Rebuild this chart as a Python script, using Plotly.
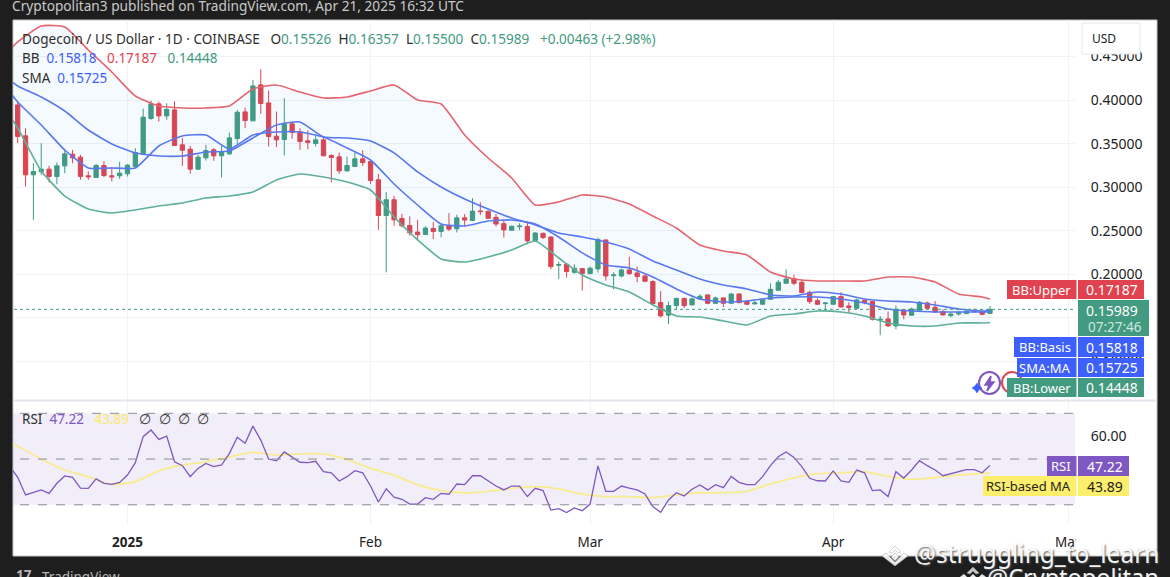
import pandas as pd
import plotly.graph_objects as go

# daily candles, Dec 18 2024 - Apr 21 2025
dates = pd.date_range("2024-12-18", "2025-04-21", freq="D")

opens = [.3944, .3589, .3142, .3176, .3207, .3123, .3245, .3379, .3345, .3131,
         .3112, .3249, .3131, .3131, .3154, .3238, .3383, .3788, .3956, .3818,
         .3887, .3486, .3436, .3207, .3337, .3429, .3360, .3383, .3558, .3864,
         .3761, .4174, .3967, .3585, .3547, .3727, .3635, .3532, .3501, .3543,
         .3364, .3348, .3188, .3238, .3325, .3295, .3085, .2676, .2856, .2642,
         .2561, .2485, .2458, .2527, .2493, .2561, .2523, .2649, .2619, .2727,
         .2724, .2655, .2582, .2506, .2548, .2548, .2387, .2471, .2429, .2105,
         .2116, .2024, .2066, .2009, .2063, .2395, .1986, .1982, .2051, .2017,
         .1982, .1918, .1677, .1532, .1642, .1723, .1650, .1719, .1764, .1668,
         .1730, .1668, .1775, .1688, .1661, .1657, .1714, .1817, .1898, .1951,
         .1909, .1794, .1699, .1665, .1657, .1745, .1638, .1611, .1703, .1688,
         .1477, .1489, .1409, .1592, .1531, .1588, .1672, .1623, .1573, .1527,
         .1546, .1550, .1584, .1569, .15526]
highs = [.3983, .3677, .3276, .3505, .3245, .3283, .3429, .3429, .3371, .3180,
         .3268, .3299, .3230, .3291, .3264, .3448, .3902, .3994, .3983, .3963,
         .3986, .3562, .3474, .3371, .3486, .3448, .3474, .3627, .3887, .3914,
         .4231, .4353, .4109, .3868, .4021, .3753, .3677, .3650, .3612, .3574,
         .3379, .3398, .3352, .3398, .3425, .3314, .3150, .2943, .2901, .2695,
         .2665, .2626, .2550, .2600, .2588, .2703, .2684, .2691, .2875, .2827,
         .2731, .2693, .2624, .2559, .2586, .2605, .2483, .2479, .2433, .2147,
         .2128, .2116, .2070, .2089, .2422, .2399, .2024, .2066, .2200, .2089,
         .2002, .1933, .1807, .1688, .1734, .1734, .1734, .1772, .1772, .1745,
         .1737, .1783, .1783, .1707, .1699, .1714, .1898, .1936, .2058, .1997,
         .1936, .1814, .1726, .1684, .1752, .1794, .1680, .1722, .1707, .1695,
         .1523, .1573, .1642, .1600, .1619, .1695, .1688, .1695, .1600, .1565,
         .1584, .1592, .1607, .1584, .16357]
lows = [.3505, .3008, .2626, .3142, .3054, .3035, .3161, .3276, .3085, .3085,
        .3112, .3115, .3066, .3096, .3123, .3219, .3379, .3772, .3753, .3772,
        .3474, .3245, .3154, .3199, .3306, .3303, .3112, .3371, .3490, .3677,
        .3761, .3841, .3467, .3459, .3364, .3555, .3429, .3436, .3467, .3360,
        .3058, .3154, .3176, .3230, .3245, .3039, .2512, .2023, .2558, .2539,
        .2443, .2390, .2451, .2405, .2424, .2497, .2481, .2550, .2615, .2681,
        .2643, .2548, .2422, .2502, .2510, .2345, .2380, .2406, .2059, .1948,
        .1963, .2005, .1814, .2002, .2021, .1929, .1830, .1967, .1994, .1910,
        .1910, .1650, .1505, .1429, .1600, .1612, .1646, .1715, .1657, .1665,
        .1626, .1668, .1668, .1649, .1657, .1657, .1714, .1814, .1898, .1875,
        .1783, .1661, .1649, .1592, .1653, .1623, .1554, .1607, .1657, .1470,
        .1302, .1401, .1370, .1485, .1527, .1584, .1603, .1561, .1527, .1508,
        .1527, .1546, .1561, .1531, .15500]
closes = [.3581, .3142, .3180, .3207, .3123, .3245, .3383, .3337, .3123, .3119,
          .3249, .3134, .3119, .3161, .3253, .3398, .3803, .3956, .3818, .3891,
          .3478, .3425, .3207, .3345, .3421, .3360, .3398, .3566, .3860, .3765,
          .4162, .3960, .3581, .3543, .3727, .3627, .3524, .3513, .3543, .3360,
          .3341, .3188, .3249, .3325, .3283, .3077, .2676, .2856, .2626, .2558,
          .2477, .2455, .2531, .2493, .2558, .2519, .2649, .2623, .2726, .2720,
          .2643, .2578, .2510, .2552, .2555, .2384, .2475, .2422, .2089, .2112,
          .2032, .2070, .2009, .2070, .2399, .1982, .1994, .2051, .2009, .1975,
          .1921, .1665, .1524, .1642, .1723, .1642, .1719, .1749, .1668, .1730,
          .1668, .1775, .1676, .1657, .1672, .1710, .1829, .1909, .1947, .1898,
          .1791, .1688, .1657, .1672, .1745, .1626, .1619, .1707, .1676, .1485,
          .1485, .1409, .1600, .1535, .1603, .1680, .1611, .1569, .1535, .1546,
          .1558, .1577, .1573, .1542, .15989]

# indicator lines read every third day (plus the clipped day at the left edge and the last day)
line_dates = [pd.Timestamp("2024-12-17")] + list(dates[::3]) + [dates[-1]]

bb_upper = [.4574, .4666, .4849, .4838, .4574, .4322, .4046, .3932, .3909, .3909, .3932,
            .4127, .4173, .4092, .4023, .4035, .4104, .4173, .4000, .3955, .3599, .3335,
            .3106, .2796, .2831, .2911, .2888, .2808, .2670, .2532, .2337, .2268, .2223,
            .2028, .1947, .1924, .1924, .1924, .1970, .1970, .1913, .1775, .1741, .17187]
bb_basis = [.4230, .4161, .4035, .3874, .3656, .3496, .3393, .3358, .3358, .3404, .3415,
            .3565, .3714, .3748, .3576, .3565, .3530, .3393, .3175, .3003, .2865, .2750,
            .2647, .2567, .2475, .2429, .2372, .2291, .2154, .2051, .1947, .1879, .1833,
            .1764, .1752, .1798, .1775, .1718, .1695, .1684, .1649, .1603, .1580, .15818]
bb_lower = [.3817, .3679, .3186, .2899, .2750, .2704, .2739, .2785, .2819, .2876, .2899,
            .2945, .3083, .3152, .3117, .3060, .2968, .2658, .2395, .2177, .2142, .2200,
            .2280, .2383, .2188, .1993, .1879, .1798, .1649, .1523, .1511, .1466, .1420,
            .1523, .1546, .1580, .1569, .1523, .1443, .1408, .1408, .1443, .1443, .14448]
sma = [.4092, .3978, .3714, .3427, .3221, .3221, .3221, .3473, .3588, .3599, .3438,
       .3599, .3633, .3633, .3576, .3450, .3312, .3037, .2796, .2578, .2555, .2613,
       .2624, .2578, .2429, .2246, .2108, .2074, .1970, .1833, .1718, .1684, .1695,
       .1729, .1741, .1741, .1718, .1672, .1603, .1580, .1569, .1569, .1569, .15725]

# RSI, first value is the clipped Dec 17
rsi_dates = pd.date_range("2024-12-17", "2025-04-21", freq="D")
rsi = [46.7, 42.0, 34.3, 35.3, 36.5, 35.0, 39.4, 42.6, 42.0, 37.3, 37.2, 41.3, 39.4, 38.9, 39.8,
       43.0, 48.4, 59.8, 62.7, 58.6, 60.0, 48.8, 47.1, 42.3, 45.9, 48.1, 46.7, 47.4, 52.5, 59.5,
       56.9, 64.4, 58.3, 50.0, 49.2, 53.1, 50.7, 48.6, 48.4, 49.0, 44.5, 44.0, 40.4, 42.3, 44.9,
       44.0, 38.2, 31.2, 37.0, 33.3, 32.4, 30.3, 30.3, 33.1, 32.4, 35.0, 34.6, 39.1, 38.8, 42.7,
       42.7, 40.4, 38.2, 36.5, 38.2, 38.2, 33.6, 37.2, 36.2, 27.7, 28.3, 26.6, 28.6, 27.4, 30.3,
       47.0, 35.9, 35.9, 38.2, 37.3, 36.5, 34.7, 29.2, 26.7, 32.1, 35.3, 33.8, 36.8, 38.7, 36.5,
       38.8, 37.5, 42.4, 39.8, 38.8, 38.8, 42.3, 47.1, 51.0, 53.1, 50.7, 46.7, 41.6, 40.5, 40.4,
       44.8, 40.4, 39.8, 45.2, 44.0, 36.2, 36.5, 33.6, 44.5, 41.7, 45.2, 49.3, 47.1, 45.2, 42.7,
       43.5, 44.5, 45.4, 45.4, 44.0, 47.22]
rsi_ma = [57.2, 55.7, 49.9, 45.2, 42.3, 38.9, 40.1, 44.8, 47.4, 48.8, 51.0, 52.9, 51.8, 52.3, 52.3,
          49.9, 45.9, 43.0, 38.7, 36.2, 35.2, 35.9, 37.2, 37.9, 37.0, 34.7, 33.6, 33.6, 33.1, 34.3,
          35.2, 35.3, 35.9, 39.1, 41.8, 43.6, 44.0, 44.5, 42.4, 41.1, 42.0, 43.0, 43.7, 43.89]

price_ticks = [0.05, 0.10, 0.15, 0.20, 0.25, 0.30, 0.35, 0.40, 0.45]
rsi_ticks = [40, 60]
month_ticks = ["2025-01-01", "2025-02-01", "2025-03-01", "2025-04-01", "2025-05-01"]
month_labels = ["<b>2025</b>", "Feb", "Mar", "Apr", "May"]

GREEN = "#429a80"
RED = "#e0434f"
BLUE = "#3d5ffb"
PURPLE = "#7e57c2"
YELLOW = "#fdee6b"
GRID = "#f0f2f7"
TEXT = "#2e2e2e"
FONT = "Noto Sans"

W, H = 1170, 577


def px(x):
    return x / W


def py(y):
    return 1 - y / H


fig = go.Figure()

# bollinger band with fill
fig.add_trace(go.Scatter(x=line_dates, y=bb_lower, mode="lines", line=dict(color="#5fb09a", width=1.6, shape="spline", smoothing=0.5)))
fig.add_trace(go.Scatter(x=line_dates, y=bb_upper, mode="lines", line=dict(color="#e3666f", width=1.6, shape="spline", smoothing=0.5),
                         fill="tonexty", fillcolor="rgba(33,150,243,0.05)"))
fig.add_trace(go.Scatter(x=line_dates, y=bb_basis, mode="lines", line=dict(color="#5a78ee", width=1.6, shape="spline", smoothing=0.5)))
fig.add_trace(go.Scatter(x=line_dates, y=sma, mode="lines", line=dict(color="#5a78ee", width=1.6, shape="spline", smoothing=0.5)))

fig.add_trace(go.Candlestick(x=dates, open=opens, high=highs, low=lows, close=closes,
                             increasing=dict(line=dict(color=GREEN, width=1), fillcolor=GREEN),
                             decreasing=dict(line=dict(color=RED, width=1), fillcolor=RED),
                             whiskerwidth=0))

fig.add_trace(go.Scatter(x=line_dates, y=rsi_ma, mode="lines", xaxis="x2", yaxis="y2",
                         line=dict(color="#f8ec8e", width=1.8, shape="spline", smoothing=0.5)))
fig.add_trace(go.Scatter(x=rsi_dates, y=rsi, mode="lines", xaxis="x2", yaxis="y2",
                         line=dict(color=PURPLE, width=1.3)))

shapes = [
    # white page behind the chart
    dict(type="rect", xref="paper", yref="paper", x0=px(13), x1=px(1157), y0=py(556), y1=py(20),
         fillcolor="white", line=dict(color="#c8c8c8", width=1), layer="below"),
    # pane separator
    dict(type="line", xref="paper", yref="paper", x0=px(13), x1=px(1157), y0=py(400.5), y1=py(400.5),
         line=dict(color="#e4e6ec", width=2)),
    # last price line
    dict(type="line", xref="x", yref="y", x0=dates[0] - pd.Timedelta(days=2), x1="2025-05-02", y0=closes[-1], y1=closes[-1],
         line=dict(color=GREEN, width=1, dash="dot")),
    # rsi band
    dict(type="rect", xref="x2", yref="y2", x0=dates[0] - pd.Timedelta(days=2), x1="2025-05-02", y0=30, y1=70,
         fillcolor="rgba(126,87,194,0.1)", line=dict(width=0), layer="below"),
    # USD box
    dict(type="rect", xref="paper", yref="paper", x0=px(1082), x1=px(1140), y0=py(54), y1=py(23),
         fillcolor="white", line=dict(color="#e4e6ec", width=1), layer="above"),
    # the time scale cuts off the May label at the price scale edge
    dict(type="rect", xref="paper", yref="paper", x0=px(1075.5), x1=px(1090), y0=py(553), y1=py(530),
         fillcolor="white", line=dict(width=0), layer="above"),
]
for level in [30, 50, 70]:
    shapes.append(dict(type="line", xref="x2", yref="y2", x0=dates[0] - pd.Timedelta(days=2), x1="2025-05-02", y0=level, y1=level,
                       line=dict(color="#8b8b95", width=1, dash="dash")))

annotations = []


def note(x, y, text, size=13, color=TEXT, anchor="left"):
    annotations.append(dict(xref="paper", yref="paper", x=px(x), y=py(y), text=text, showarrow=False,
                            xanchor=anchor, yanchor="middle", font=dict(family=FONT, size=size, color=color)))


def tag(x0, x1, y0, y1, fill, label, value, color="white"):
    # axis tag: name part on the left, value part on the right of the scale edge
    shapes.append(dict(type="rect", xref="paper", yref="paper", x0=px(x0), x1=px(1076.5), y0=py(y1), y1=py(y0),
                       fillcolor=fill, line=dict(width=0), layer="above"))
    shapes.append(dict(type="rect", xref="paper", yref="paper", x0=px(1078), x1=px(x1), y0=py(y1), y1=py(y0),
                       fillcolor=fill, line=dict(width=0), layer="above"))
    note(1073, (y0 + y1) / 2, label, color=color, anchor="right")
    note(x1 - 4.5, (y0 + y1) / 2, value, size=14, color=color, anchor="right")


tag(1007, 1144, 280, 299, RED, "BB:Upper", "0.17187")
tag(1014, 1144, 337, 357, BLUE, "BB:Basis", "0.15818")
tag(1017, 1144, 358, 377, BLUE, "SMA:MA", "0.15725")
tag(1007, 1144, 378, 397, GREEN, "BB:Lower", "0.14448")
tag(1047, 1129, 456, 476, PURPLE, "RSI", "47.22")
tag(983, 1129, 476, 496, YELLOW, "RSI-based MA", "43.89", color="#222222")

# last price tag
shapes.append(dict(type="rect", xref="paper", yref="paper", x0=px(1078), x1=px(1149), y0=py(336), y1=py(300),
                   fillcolor=GREEN, line=dict(width=0), layer="above"))
note(1139.5, 310, "0.15989", size=14, color="white", anchor="right")
note(1144, 327, "07:27:46", size=13.5, color="#cfe6de", anchor="right")

note(1104, 39, "USD", size=12, color="#222222", anchor="center")

# top text and legends
note(10, 5, "Cryptopolitan3 published on TradingView.com, Apr 21, 2025 16:32 UTC", size=13.7, color="#c9c9c9")
vals = lambda s: f'<span style="color:{GREEN}">{s}</span>'
SP = "&nbsp;"
note(20, 38, "Dogecoin / US Dollar · 1D · COINBASE" + SP * 3 + "O" + vals("0.15526") + SP * 2 + "H" + vals("0.16357")
     + SP * 2 + "L" + vals("0.15500") + SP * 2 + "C" + vals("0.15989") + SP * 3 + vals("+0.00463 (+2.98%)"), size=13.6)
note(20, 58, "BB" + SP * 2 + f'<span style="color:{BLUE}">0.15818</span>' + SP * 3 + f'<span style="color:{RED}">0.17187</span>' + SP * 3
     + vals("0.14448"), size=13.5)
note(20, 78, "SMA" + SP * 2 + f'<span style="color:{BLUE}">0.15725</span>', size=13.5)
note(20, 419, "RSI" + SP * 2 + f'<span style="color:{PURPLE}">47.22</span>' + SP * 3 + '<span style="color:#fbe96a">43.89</span>'
     + SP * 3 + ("∅" + SP * 2) * 3 + "∅", size=13.5)

# bottom strip and watermarks
note(40, 577, "TradingView", size=13.5, color="#b5b5b5")
note(14, 575, "<b>17</b>", size=13.5, color="#b5b5b5")
for wm_y, wm_text, wm_size in [(553, "@struggling_to_learn", 24.5), (577, "@Cryptopolitan", 23.5)]:
    annotations.append(dict(xref="paper", yref="paper", x=px(1161), y=py(wm_y), text=wm_text, showarrow=False,
                            xanchor="right", yanchor="middle",
                            font=dict(family=FONT, size=wm_size, color="rgba(255,255,255,0.95)", shadow="1px 1px 2px #555")))


def poly(points, fill="rgba(0,0,0,0)", line=None, width=1.5):
    d = "M " + " L ".join(f"{px(a):.5f},{py(b):.5f}" for a, b in points) + " Z"
    shapes.append(dict(type="path", xref="paper", yref="paper", path=d, fillcolor=fill,
                       line=dict(color=line or fill, width=width), layer="above"))


# watermark logos: stacked chevrons
for cx, cy in [(895, 556), (973, 577)]:
    poly([(cx - 6, cy - 4), (cx, cy - 10), (cx + 6, cy - 4), (cx + 3, cy - 3), (cx, cy - 6), (cx - 3, cy - 3)],
         fill="rgba(255,255,255,0.75)", line="#aaaaaa", width=0.5)
    poly([(cx - 4, cy + 1), (cx, cy - 3), (cx + 4, cy + 1), (cx, cy + 5)], fill="rgba(255,255,255,0.9)", line="#999999", width=0.5)
    poly([(cx - 13, cy), (cx - 9, cy - 3), (cx, cy + 6), (cx + 9, cy - 3), (cx + 13, cy), (cx, cy + 10)],
         fill="rgba(255,255,255,0.9)", line="#999999", width=0.5)

# little icons under the tags
shapes.append(dict(type="circle", xref="paper", yref="paper", x0=px(979), x1=px(1000), y0=py(394), y1=py(372),
                   fillcolor="white", line=dict(color=PURPLE, width=2), layer="above"))
shapes.append(dict(type="circle", xref="paper", yref="paper", x0=px(1002), x1=px(1022), y0=py(393), y1=py(372),
                   line=dict(color=RED, width=2), layer="below"))
poly([(991, 376), (985, 385), (989, 385), (987, 391), (994, 382), (990, 382)], fill=PURPLE)
poly([(977, 383), (979, 386), (982, 388), (979, 390), (977, 393), (975, 390), (972, 388), (975, 386)], fill="#3d5ffb", width=0.5)

fig.update_layout(
    width=W, height=H, autosize=False,
    margin=dict(l=0, r=0, t=0, b=0, autoexpand=False),
    paper_bgcolor="#1e1e1e",
    plot_bgcolor="white",
    showlegend=False,
    boxgap=0.22,
    shapes=shapes,
    annotations=annotations,
    font=dict(family=FONT, size=13, color=TEXT),
    xaxis=dict(domain=[px(13), px(1075)], anchor="y", type="date",
               range=["2024-12-17 09:36", "2025-05-01 20:10"],
               tickvals=month_ticks, ticktext=[""] * 5, showticklabels=False,
               rangeslider=dict(visible=False), showgrid=True, gridcolor=GRID, zeroline=False, showline=False),
    yaxis=dict(domain=[py(400), py(20)], anchor="x", side="right", range=[0.0559, 0.4918],
               tickvals=price_ticks, tickformat=".5f", showgrid=True, gridcolor=GRID, zeroline=False,
               ticks="outside", ticklen=12, tickcolor="rgba(0,0,0,0)", tickfont=dict(size=14, color="#222222")),
    xaxis2=dict(domain=[px(13), px(1075)], anchor="y2", type="date", matches="x",
                tickvals=month_ticks, ticktext=month_labels, showgrid=True, gridcolor=GRID, zeroline=False,
                ticks="outside", ticklen=6, tickcolor="rgba(0,0,0,0)", tickfont=dict(size=13.5, color="#222222")),
    yaxis2=dict(domain=[py(524), py(401)], anchor="x2", side="right", range=[21.6, 75.38],
                tickvals=rsi_ticks, tickformat=".2f", showgrid=True, gridcolor=GRID, zeroline=False,
                ticks="outside", ticklen=12, tickcolor="rgba(0,0,0,0)", tickfont=dict(size=14, color="#222222")),
)

fig.write_html("out.html", config=dict(displayModeBar=False),
               post_script="document.body.style.margin='0';document.body.style.overflow='hidden';")
